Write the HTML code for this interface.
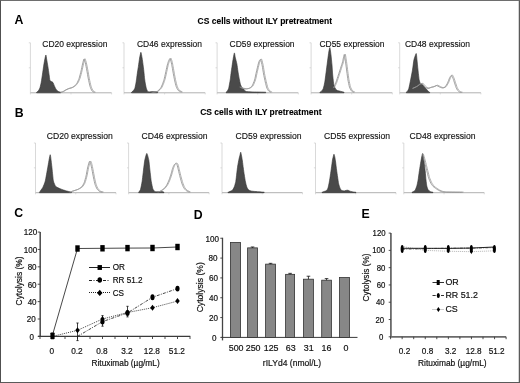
<!DOCTYPE html>
<html><head><meta charset="utf-8"><title>Figure</title>
<style>
html,body{margin:0;padding:0;background:#fff;}
#fig{position:relative;width:520px;height:383px;overflow:hidden;background:#fff;}
#frame{position:absolute;left:0;top:0;width:518px;height:381px;border:1px solid #5a5a5a;border-top-color:#6e6e6e;border-left-color:#505050;}
svg{position:absolute;left:0;top:0;}
svg text{font-family:'Liberation Sans', Arial, Helvetica, sans-serif;}
</style></head>
<body><div id="fig"><div id="frame"></div>
<svg width="520" height="383" viewBox="0 0 520 383">
<text transform="translate(14.5,24.0) scale(1,1.07)" font-size="12.3" font-weight="700" text-anchor="start" fill="#000">A</text>
<text transform="translate(14.7,117.0) scale(1,1.07)" font-size="12.3" font-weight="700" text-anchor="start" fill="#000">B</text>
<text transform="translate(14.3,216.9) scale(1,1.07)" font-size="12.3" font-weight="700" text-anchor="start" fill="#000">C</text>
<text transform="translate(193.7,218.9) scale(1,1.07)" font-size="12.3" font-weight="700" text-anchor="start" fill="#000">D</text>
<text transform="translate(361.5,218.0) scale(1,1.07)" font-size="12.3" font-weight="700" text-anchor="start" fill="#000">E</text>
<text transform="translate(264.8,24.0) scale(1,1.07)" font-size="8.5" font-weight="700" text-anchor="middle" fill="#000" stroke="#000" stroke-width="0.1">CS cells without ILY pretreatment</text>
<text transform="translate(260.8,115.2) scale(1,1.07)" font-size="8.5" font-weight="700" text-anchor="middle" fill="#000" stroke="#000" stroke-width="0.1">CS cells with ILY pretreatment</text>
<line x1="30.4" y1="42.8" x2="30.4" y2="92.8" stroke="#cfcfcf" stroke-width="0.8"/>
<line x1="30.4" y1="92.8" x2="111.6" y2="92.8" stroke="#a8a8a8" stroke-width="0.9"/>
<line x1="28.799999999999997" y1="67.8" x2="30.4" y2="67.8" stroke="#ccc" stroke-width="0.7"/>
<line x1="28.799999999999997" y1="42.8" x2="30.4" y2="42.8" stroke="#ccc" stroke-width="0.7"/>
<line x1="30.4" y1="92.8" x2="30.4" y2="94.39999999999999" stroke="#ccc" stroke-width="0.7"/>
<line x1="71.0" y1="92.8" x2="71.0" y2="94.39999999999999" stroke="#ccc" stroke-width="0.7"/>
<line x1="111.6" y1="92.8" x2="111.6" y2="94.39999999999999" stroke="#ccc" stroke-width="0.7"/>
<path d="M36.60,92.80 C36.60,92.75 36.43,92.50 36.60,92.30 C36.77,92.10 38.19,91.02 38.50,90.60 C38.81,90.18 39.75,88.37 40.00,87.60 C40.25,86.83 41.07,83.22 41.30,82.00 C41.52,80.78 42.27,75.53 42.50,74.00 C42.73,72.47 43.58,66.37 43.80,65.00 C44.02,63.63 44.71,59.70 44.90,58.80 C45.09,57.90 45.74,54.95 45.90,55.00 C46.06,55.05 46.52,58.37 46.70,59.40 C46.88,60.43 47.68,65.12 47.90,66.50 C48.12,67.88 48.92,73.46 49.10,74.70 C49.28,75.94 49.69,79.68 49.90,80.30 C50.11,80.92 51.13,81.41 51.40,81.60 C51.67,81.79 52.63,82.01 52.90,82.40 C53.17,82.79 54.11,85.27 54.40,85.90 C54.69,86.53 55.73,88.90 56.10,89.40 C56.47,89.90 58.08,91.24 58.50,91.50 C58.92,91.76 60.59,92.18 60.80,92.30 C61.01,92.42 60.80,92.75 60.80,92.80 Z" fill="#4a4a4a" stroke="#333" stroke-width="0.6"/>
<path d="M60.50,92.50 C60.73,92.44 62.51,92.02 63.00,91.80 C63.49,91.58 65.46,90.29 66.00,90.00 C66.54,89.71 68.46,88.80 69.00,88.60 C69.54,88.40 71.46,88.03 72.00,87.80 C72.54,87.57 74.50,86.43 75.00,86.00 C75.50,85.57 77.09,83.67 77.50,83.00 C77.91,82.33 79.14,79.58 79.50,78.50 C79.86,77.42 81.19,72.31 81.50,71.00 C81.81,69.69 82.74,65.08 83.00,64.00 C83.26,62.92 84.15,59.09 84.40,59.00 C84.65,58.91 85.55,62.01 85.80,63.00 C86.05,63.99 86.93,68.56 87.20,70.00 C87.47,71.44 88.50,77.52 88.80,79.00 C89.10,80.48 90.17,85.42 90.50,86.50 C90.83,87.58 92.09,90.46 92.50,91.00 C92.91,91.54 94.78,92.36 95.00,92.50" fill="none" stroke="#8a8a8a" stroke-width="0.8" transform="translate(-0.45,0)"/>
<path d="M60.50,92.50 C60.73,92.44 62.51,92.02 63.00,91.80 C63.49,91.58 65.46,90.29 66.00,90.00 C66.54,89.71 68.46,88.80 69.00,88.60 C69.54,88.40 71.46,88.03 72.00,87.80 C72.54,87.57 74.50,86.43 75.00,86.00 C75.50,85.57 77.09,83.67 77.50,83.00 C77.91,82.33 79.14,79.58 79.50,78.50 C79.86,77.42 81.19,72.31 81.50,71.00 C81.81,69.69 82.74,65.08 83.00,64.00 C83.26,62.92 84.15,59.09 84.40,59.00 C84.65,58.91 85.55,62.01 85.80,63.00 C86.05,63.99 86.93,68.56 87.20,70.00 C87.47,71.44 88.50,77.52 88.80,79.00 C89.10,80.48 90.17,85.42 90.50,86.50 C90.83,87.58 92.09,90.46 92.50,91.00 C92.91,91.54 94.78,92.36 95.00,92.50" fill="none" stroke="#9a9a9a" stroke-width="0.8" transform="translate(0.55,-0.3)"/>
<text transform="translate(42.3,46.8) scale(1,1.09)" font-size="8.5" font-weight="400" text-anchor="start" fill="#111" stroke="#111" stroke-width="0.12">CD20 expression</text>
<line x1="124.0" y1="42.8" x2="124.0" y2="92.8" stroke="#cfcfcf" stroke-width="0.8"/>
<line x1="124.0" y1="92.8" x2="205.2" y2="92.8" stroke="#a8a8a8" stroke-width="0.9"/>
<line x1="122.4" y1="67.8" x2="124.0" y2="67.8" stroke="#ccc" stroke-width="0.7"/>
<line x1="122.4" y1="42.8" x2="124.0" y2="42.8" stroke="#ccc" stroke-width="0.7"/>
<line x1="124.0" y1="92.8" x2="124.0" y2="94.39999999999999" stroke="#ccc" stroke-width="0.7"/>
<line x1="164.6" y1="92.8" x2="164.6" y2="94.39999999999999" stroke="#ccc" stroke-width="0.7"/>
<line x1="205.2" y1="92.8" x2="205.2" y2="94.39999999999999" stroke="#ccc" stroke-width="0.7"/>
<path d="M131.50,92.80 C131.50,92.75 131.35,92.48 131.50,92.30 C131.65,92.12 132.91,91.14 133.20,90.80 C133.49,90.46 134.52,89.11 134.75,88.50 C134.98,87.89 135.63,84.88 135.80,84.00 C135.97,83.12 136.45,79.78 136.60,78.70 C136.75,77.62 137.34,73.11 137.50,72.00 C137.66,70.89 138.21,67.66 138.40,66.40 C138.59,65.14 139.38,59.27 139.60,58.00 C139.82,56.73 140.68,52.30 140.90,52.30 C141.12,52.30 141.88,56.73 142.10,58.00 C142.32,59.27 143.13,65.09 143.30,66.40 C143.47,67.71 143.88,71.39 144.00,72.50 C144.12,73.61 144.47,77.67 144.60,78.70 C144.73,79.73 145.24,83.12 145.40,84.00 C145.56,84.88 146.21,87.85 146.40,88.50 C146.59,89.15 147.27,90.89 147.50,91.20 C147.73,91.51 148.50,91.86 149.00,91.90 C149.50,91.94 152.24,91.61 153.00,91.60 C153.76,91.59 157.09,91.69 157.50,91.80 C157.91,91.91 157.50,92.71 157.50,92.80 Z" fill="#4a4a4a" stroke="#333" stroke-width="0.6"/>
<path d="M152.00,92.30 C152.50,92.24 156.69,91.97 157.50,91.60 C158.31,91.23 160.50,88.88 161.00,88.20 C161.50,87.52 162.69,84.78 163.00,84.00 C163.31,83.22 164.23,80.49 164.50,79.50 C164.77,78.51 165.73,74.22 166.00,73.00 C166.27,71.78 167.25,67.03 167.50,66.00 C167.75,64.97 168.54,62.17 168.80,61.50 C169.06,60.83 170.15,58.45 170.40,58.50 C170.65,58.55 171.40,61.23 171.60,62.00 C171.80,62.77 172.38,65.83 172.60,67.00 C172.82,68.17 173.77,73.74 174.00,75.00 C174.23,76.26 174.97,79.97 175.20,81.00 C175.43,82.03 176.30,85.66 176.60,86.50 C176.90,87.34 178.01,89.78 178.50,90.30 C178.99,90.82 181.69,92.12 182.00,92.30" fill="none" stroke="#8a8a8a" stroke-width="0.8" transform="translate(-0.45,0)"/>
<path d="M152.00,92.30 C152.50,92.24 156.69,91.97 157.50,91.60 C158.31,91.23 160.50,88.88 161.00,88.20 C161.50,87.52 162.69,84.78 163.00,84.00 C163.31,83.22 164.23,80.49 164.50,79.50 C164.77,78.51 165.73,74.22 166.00,73.00 C166.27,71.78 167.25,67.03 167.50,66.00 C167.75,64.97 168.54,62.17 168.80,61.50 C169.06,60.83 170.15,58.45 170.40,58.50 C170.65,58.55 171.40,61.23 171.60,62.00 C171.80,62.77 172.38,65.83 172.60,67.00 C172.82,68.17 173.77,73.74 174.00,75.00 C174.23,76.26 174.97,79.97 175.20,81.00 C175.43,82.03 176.30,85.66 176.60,86.50 C176.90,87.34 178.01,89.78 178.50,90.30 C178.99,90.82 181.69,92.12 182.00,92.30" fill="none" stroke="#9a9a9a" stroke-width="0.8" transform="translate(0.55,-0.3)"/>
<text transform="translate(136.9,46.8) scale(1,1.09)" font-size="8.5" font-weight="400" text-anchor="start" fill="#111" stroke="#111" stroke-width="0.12">CD46 expression</text>
<line x1="217.1" y1="42.8" x2="217.1" y2="92.8" stroke="#cfcfcf" stroke-width="0.8"/>
<line x1="217.1" y1="92.8" x2="298.3" y2="92.8" stroke="#a8a8a8" stroke-width="0.9"/>
<line x1="215.5" y1="67.8" x2="217.1" y2="67.8" stroke="#ccc" stroke-width="0.7"/>
<line x1="215.5" y1="42.8" x2="217.1" y2="42.8" stroke="#ccc" stroke-width="0.7"/>
<line x1="217.1" y1="92.8" x2="217.1" y2="94.39999999999999" stroke="#ccc" stroke-width="0.7"/>
<line x1="257.7" y1="92.8" x2="257.7" y2="94.39999999999999" stroke="#ccc" stroke-width="0.7"/>
<line x1="298.3" y1="92.8" x2="298.3" y2="94.39999999999999" stroke="#ccc" stroke-width="0.7"/>
<path d="M226.10,92.80 C226.10,92.75 225.98,92.46 226.10,92.30 C226.22,92.14 227.18,91.34 227.40,91.00 C227.62,90.66 228.41,89.13 228.60,88.50 C228.79,87.87 229.34,84.88 229.50,84.00 C229.66,83.12 230.25,79.78 230.40,78.70 C230.55,77.62 231.06,73.11 231.20,72.00 C231.34,70.89 231.81,67.66 232.00,66.40 C232.19,65.14 233.08,59.22 233.30,58.00 C233.52,56.78 234.22,52.95 234.40,52.90 C234.58,52.85 235.08,56.50 235.30,57.50 C235.53,58.50 236.67,62.78 236.90,64.00 C237.13,65.22 237.69,69.69 237.90,71.00 C238.11,72.31 238.97,77.28 239.20,78.50 C239.43,79.72 240.22,83.64 240.50,84.50 C240.78,85.36 242.02,87.59 242.30,88.00 C242.58,88.41 243.36,88.75 243.60,89.00 C243.84,89.25 244.75,90.57 245.00,90.80 C245.25,91.03 245.77,91.50 246.40,91.60 C247.03,91.70 250.29,91.85 252.00,91.90 C253.71,91.95 264.19,92.12 265.40,92.20 C266.61,92.28 265.40,92.75 265.40,92.80 Z" fill="#4a4a4a" stroke="#333" stroke-width="0.6"/>
<path d="M240.00,87.00 C240.27,87.14 242.46,88.32 243.00,88.50 C243.54,88.68 245.41,89.01 246.00,89.00 C246.59,88.99 248.91,88.67 249.50,88.40 C250.09,88.13 252.00,86.76 252.50,86.00 C253.00,85.24 254.61,81.26 255.00,80.00 C255.39,78.74 256.47,73.44 256.80,72.00 C257.13,70.56 258.42,65.03 258.70,64.00 C258.98,62.97 259.68,60.91 259.90,60.50 C260.12,60.09 260.85,59.01 261.10,59.50 C261.35,59.99 262.44,64.69 262.70,66.00 C262.96,67.31 263.73,72.56 264.00,74.00 C264.27,75.44 265.40,80.74 265.70,82.00 C266.00,83.26 266.99,87.19 267.30,88.00 C267.61,88.81 268.71,90.60 269.10,91.00 C269.49,91.40 271.38,92.27 271.60,92.40" fill="none" stroke="#8a8a8a" stroke-width="0.8" transform="translate(-0.45,0)"/>
<path d="M240.00,87.00 C240.27,87.14 242.46,88.32 243.00,88.50 C243.54,88.68 245.41,89.01 246.00,89.00 C246.59,88.99 248.91,88.67 249.50,88.40 C250.09,88.13 252.00,86.76 252.50,86.00 C253.00,85.24 254.61,81.26 255.00,80.00 C255.39,78.74 256.47,73.44 256.80,72.00 C257.13,70.56 258.42,65.03 258.70,64.00 C258.98,62.97 259.68,60.91 259.90,60.50 C260.12,60.09 260.85,59.01 261.10,59.50 C261.35,59.99 262.44,64.69 262.70,66.00 C262.96,67.31 263.73,72.56 264.00,74.00 C264.27,75.44 265.40,80.74 265.70,82.00 C266.00,83.26 266.99,87.19 267.30,88.00 C267.61,88.81 268.71,90.60 269.10,91.00 C269.49,91.40 271.38,92.27 271.60,92.40" fill="none" stroke="#9a9a9a" stroke-width="0.8" transform="translate(0.55,-0.3)"/>
<text transform="translate(229.5,46.8) scale(1,1.09)" font-size="8.5" font-weight="400" text-anchor="start" fill="#111" stroke="#111" stroke-width="0.12">CD59 expression</text>
<line x1="311.1" y1="42.8" x2="311.1" y2="92.8" stroke="#cfcfcf" stroke-width="0.8"/>
<line x1="311.1" y1="92.8" x2="392.3" y2="92.8" stroke="#a8a8a8" stroke-width="0.9"/>
<line x1="309.5" y1="67.8" x2="311.1" y2="67.8" stroke="#ccc" stroke-width="0.7"/>
<line x1="309.5" y1="42.8" x2="311.1" y2="42.8" stroke="#ccc" stroke-width="0.7"/>
<line x1="311.1" y1="92.8" x2="311.1" y2="94.39999999999999" stroke="#ccc" stroke-width="0.7"/>
<line x1="351.70000000000005" y1="92.8" x2="351.70000000000005" y2="94.39999999999999" stroke="#ccc" stroke-width="0.7"/>
<line x1="392.3" y1="92.8" x2="392.3" y2="94.39999999999999" stroke="#ccc" stroke-width="0.7"/>
<path d="M319.90,92.80 C319.90,92.75 319.76,92.44 319.90,92.30 C320.04,92.16 321.21,91.50 321.50,91.20 C321.79,90.90 322.86,89.56 323.10,89.00 C323.34,88.44 324.02,85.81 324.20,85.00 C324.38,84.19 324.90,81.35 325.10,80.00 C325.30,78.65 326.17,71.80 326.40,70.00 C326.63,68.20 327.48,61.62 327.70,60.00 C327.92,58.38 328.60,53.12 328.80,52.00 C329.00,50.88 329.70,47.33 329.90,47.60 C330.10,47.87 330.81,53.43 331.00,55.00 C331.19,56.57 331.85,63.20 332.00,65.00 C332.15,66.80 332.53,73.20 332.70,75.00 C332.87,76.80 333.64,83.74 333.90,85.00 C334.16,86.26 335.28,88.50 335.60,89.00 C335.92,89.50 337.10,90.30 337.50,90.50 C337.90,90.70 339.52,91.05 340.10,91.20 C340.69,91.35 343.65,92.06 344.00,92.20 C344.35,92.34 344.00,92.75 344.00,92.80 Z" fill="#4a4a4a" stroke="#333" stroke-width="0.6"/>
<path d="M333.60,88.10 C333.73,87.87 334.74,86.05 335.00,85.50 C335.26,84.95 336.16,82.94 336.50,82.00 C336.84,81.06 338.36,76.35 338.80,75.00 C339.24,73.65 341.02,68.17 341.40,67.00 C341.78,65.83 342.70,63.12 343.00,62.00 C343.30,60.88 344.43,54.50 344.70,54.50 C344.97,54.50 345.77,60.42 346.00,62.00 C346.23,63.58 347.08,70.38 347.30,72.00 C347.52,73.62 348.17,78.65 348.40,80.00 C348.63,81.35 349.58,86.01 349.90,87.00 C350.21,87.99 351.49,90.51 351.90,91.00 C352.31,91.49 354.27,92.27 354.50,92.40" fill="none" stroke="#8a8a8a" stroke-width="0.8" transform="translate(-0.45,0)"/>
<path d="M333.60,88.10 C333.73,87.87 334.74,86.05 335.00,85.50 C335.26,84.95 336.16,82.94 336.50,82.00 C336.84,81.06 338.36,76.35 338.80,75.00 C339.24,73.65 341.02,68.17 341.40,67.00 C341.78,65.83 342.70,63.12 343.00,62.00 C343.30,60.88 344.43,54.50 344.70,54.50 C344.97,54.50 345.77,60.42 346.00,62.00 C346.23,63.58 347.08,70.38 347.30,72.00 C347.52,73.62 348.17,78.65 348.40,80.00 C348.63,81.35 349.58,86.01 349.90,87.00 C350.21,87.99 351.49,90.51 351.90,91.00 C352.31,91.49 354.27,92.27 354.50,92.40" fill="none" stroke="#9a9a9a" stroke-width="0.8" transform="translate(0.55,-0.3)"/>
<text transform="translate(319.4,46.8) scale(1,1.09)" font-size="8.5" font-weight="400" text-anchor="start" fill="#111" stroke="#111" stroke-width="0.12">CD55 expression</text>
<line x1="399.7" y1="42.8" x2="399.7" y2="92.8" stroke="#cfcfcf" stroke-width="0.8"/>
<line x1="399.7" y1="92.8" x2="480.9" y2="92.8" stroke="#a8a8a8" stroke-width="0.9"/>
<line x1="398.09999999999997" y1="67.8" x2="399.7" y2="67.8" stroke="#ccc" stroke-width="0.7"/>
<line x1="398.09999999999997" y1="42.8" x2="399.7" y2="42.8" stroke="#ccc" stroke-width="0.7"/>
<line x1="399.7" y1="92.8" x2="399.7" y2="94.39999999999999" stroke="#ccc" stroke-width="0.7"/>
<line x1="440.3" y1="92.8" x2="440.3" y2="94.39999999999999" stroke="#ccc" stroke-width="0.7"/>
<line x1="480.9" y1="92.8" x2="480.9" y2="94.39999999999999" stroke="#ccc" stroke-width="0.7"/>
<path d="M406.30,92.80 C406.30,92.75 406.18,92.46 406.30,92.30 C406.42,92.14 407.38,91.33 407.60,91.00 C407.83,90.67 408.53,89.59 408.80,88.60 C409.07,87.61 410.27,81.67 410.60,80.00 C410.93,78.33 412.20,71.80 412.50,70.00 C412.80,68.20 413.57,61.48 413.90,60.00 C414.23,58.52 415.92,53.50 416.20,53.50 C416.48,53.50 416.84,58.52 417.00,60.00 C417.16,61.48 417.80,68.20 418.00,70.00 C418.20,71.80 418.97,78.77 419.20,80.00 C419.43,81.23 420.22,83.30 420.50,83.70 C420.78,84.11 421.86,84.11 422.30,84.50 C422.74,84.89 424.84,87.37 425.40,88.00 C425.96,88.63 428.11,91.11 428.50,91.50 C428.89,91.89 429.59,92.18 429.70,92.30 C429.81,92.42 429.70,92.75 429.70,92.80 Z" fill="#4a4a4a" stroke="#333" stroke-width="0.6"/>
<path d="M412.50,88.60 C412.90,88.41 416.32,86.90 417.00,86.50 C417.68,86.10 419.50,84.46 420.00,84.20 C420.50,83.94 422.14,83.48 422.50,83.60 C422.86,83.72 423.69,85.16 424.00,85.50 C424.31,85.84 425.60,87.13 426.00,87.40 C426.40,87.67 428.05,88.49 428.50,88.50 C428.95,88.51 430.50,87.65 431.00,87.50 C431.50,87.35 433.46,86.98 434.00,86.80 C434.54,86.62 436.46,85.48 437.00,85.50 C437.54,85.52 439.46,86.78 440.00,87.00 C440.54,87.22 442.50,88.00 443.00,88.00 C443.50,88.00 445.05,87.45 445.50,87.00 C445.95,86.55 447.60,83.81 448.00,83.00 C448.40,82.19 449.66,78.69 450.00,78.00 C450.34,77.31 451.49,75.25 451.80,75.30 C452.12,75.34 453.21,77.81 453.50,78.50 C453.79,79.19 454.73,82.19 455.00,83.00 C455.27,83.81 456.23,86.84 456.50,87.50 C456.77,88.16 457.69,89.89 458.00,90.30 C458.31,90.70 459.64,91.80 460.00,92.00 C460.36,92.20 461.82,92.45 462.00,92.50" fill="none" stroke="#8a8a8a" stroke-width="0.8" transform="translate(-0.45,0)"/>
<path d="M412.50,88.60 C412.90,88.41 416.32,86.90 417.00,86.50 C417.68,86.10 419.50,84.46 420.00,84.20 C420.50,83.94 422.14,83.48 422.50,83.60 C422.86,83.72 423.69,85.16 424.00,85.50 C424.31,85.84 425.60,87.13 426.00,87.40 C426.40,87.67 428.05,88.49 428.50,88.50 C428.95,88.51 430.50,87.65 431.00,87.50 C431.50,87.35 433.46,86.98 434.00,86.80 C434.54,86.62 436.46,85.48 437.00,85.50 C437.54,85.52 439.46,86.78 440.00,87.00 C440.54,87.22 442.50,88.00 443.00,88.00 C443.50,88.00 445.05,87.45 445.50,87.00 C445.95,86.55 447.60,83.81 448.00,83.00 C448.40,82.19 449.66,78.69 450.00,78.00 C450.34,77.31 451.49,75.25 451.80,75.30 C452.12,75.34 453.21,77.81 453.50,78.50 C453.79,79.19 454.73,82.19 455.00,83.00 C455.27,83.81 456.23,86.84 456.50,87.50 C456.77,88.16 457.69,89.89 458.00,90.30 C458.31,90.70 459.64,91.80 460.00,92.00 C460.36,92.20 461.82,92.45 462.00,92.50" fill="none" stroke="#9a9a9a" stroke-width="0.8" transform="translate(0.55,-0.3)"/>
<text transform="translate(404.9,46.8) scale(1,1.09)" font-size="8.5" font-weight="400" text-anchor="start" fill="#111" stroke="#111" stroke-width="0.12">CD48 expression</text>
<line x1="35.5" y1="143.0" x2="35.5" y2="192.7" stroke="#cfcfcf" stroke-width="0.8"/>
<line x1="35.5" y1="192.7" x2="116.0" y2="192.7" stroke="#a8a8a8" stroke-width="0.9"/>
<line x1="33.9" y1="167.85" x2="35.5" y2="167.85" stroke="#ccc" stroke-width="0.7"/>
<line x1="33.9" y1="143.0" x2="35.5" y2="143.0" stroke="#ccc" stroke-width="0.7"/>
<line x1="35.5" y1="192.7" x2="35.5" y2="194.29999999999998" stroke="#ccc" stroke-width="0.7"/>
<line x1="75.75" y1="192.7" x2="75.75" y2="194.29999999999998" stroke="#ccc" stroke-width="0.7"/>
<line x1="116.0" y1="192.7" x2="116.0" y2="194.29999999999998" stroke="#ccc" stroke-width="0.7"/>
<path d="M39.50,192.70 C39.50,192.66 39.20,192.68 39.50,192.20 C39.80,191.72 42.28,188.42 42.80,187.40 C43.32,186.38 44.86,182.66 45.30,180.90 C45.74,179.14 47.26,170.16 47.70,167.80 C48.14,165.44 49.83,154.84 50.20,154.70 C50.57,154.56 51.51,163.84 51.80,166.20 C52.09,168.56 53.03,179.06 53.40,180.90 C53.77,182.74 55.23,185.87 55.90,186.60 C56.57,187.33 59.92,188.63 60.80,189.00 C61.68,189.37 64.75,190.41 65.70,190.70 C66.65,190.99 70.89,192.02 71.40,192.20 C71.91,192.38 71.40,192.66 71.40,192.70 Z" fill="#4a4a4a" stroke="#333" stroke-width="0.6"/>
<path d="M70.00,192.30 C70.18,192.23 71.28,191.75 72.00,191.50 C72.72,191.25 77.10,189.91 78.00,189.50 C78.90,189.09 81.42,187.59 82.00,187.00 C82.58,186.41 84.09,183.99 84.50,183.00 C84.91,182.01 86.19,177.35 86.50,176.00 C86.81,174.65 87.75,169.17 88.00,168.00 C88.25,166.83 89.11,163.60 89.30,163.00 C89.49,162.40 89.93,161.21 90.10,161.30 C90.27,161.39 90.98,163.22 91.20,164.00 C91.42,164.78 92.25,168.74 92.50,170.00 C92.75,171.26 93.73,176.69 94.00,178.00 C94.27,179.31 95.19,183.51 95.50,184.50 C95.81,185.49 97.09,188.37 97.50,189.00 C97.91,189.63 99.50,191.20 100.00,191.50 C100.50,191.80 102.73,192.23 103.00,192.30" fill="none" stroke="#8a8a8a" stroke-width="0.8" transform="translate(-0.45,0)"/>
<path d="M70.00,192.30 C70.18,192.23 71.28,191.75 72.00,191.50 C72.72,191.25 77.10,189.91 78.00,189.50 C78.90,189.09 81.42,187.59 82.00,187.00 C82.58,186.41 84.09,183.99 84.50,183.00 C84.91,182.01 86.19,177.35 86.50,176.00 C86.81,174.65 87.75,169.17 88.00,168.00 C88.25,166.83 89.11,163.60 89.30,163.00 C89.49,162.40 89.93,161.21 90.10,161.30 C90.27,161.39 90.98,163.22 91.20,164.00 C91.42,164.78 92.25,168.74 92.50,170.00 C92.75,171.26 93.73,176.69 94.00,178.00 C94.27,179.31 95.19,183.51 95.50,184.50 C95.81,185.49 97.09,188.37 97.50,189.00 C97.91,189.63 99.50,191.20 100.00,191.50 C100.50,191.80 102.73,192.23 103.00,192.30" fill="none" stroke="#9a9a9a" stroke-width="0.8" transform="translate(0.55,-0.3)"/>
<text transform="translate(46.7,138.6) scale(1,1.09)" font-size="8.62" font-weight="400" text-anchor="start" fill="#111" stroke="#111" stroke-width="0.12">CD20 expression</text>
<line x1="128.6" y1="143.0" x2="128.6" y2="192.7" stroke="#cfcfcf" stroke-width="0.8"/>
<line x1="128.6" y1="192.7" x2="209.1" y2="192.7" stroke="#a8a8a8" stroke-width="0.9"/>
<line x1="127.0" y1="167.85" x2="128.6" y2="167.85" stroke="#ccc" stroke-width="0.7"/>
<line x1="127.0" y1="143.0" x2="128.6" y2="143.0" stroke="#ccc" stroke-width="0.7"/>
<line x1="128.6" y1="192.7" x2="128.6" y2="194.29999999999998" stroke="#ccc" stroke-width="0.7"/>
<line x1="168.85" y1="192.7" x2="168.85" y2="194.29999999999998" stroke="#ccc" stroke-width="0.7"/>
<line x1="209.1" y1="192.7" x2="209.1" y2="194.29999999999998" stroke="#ccc" stroke-width="0.7"/>
<path d="M138.70,192.70 C138.70,192.66 138.54,192.49 138.70,192.20 C138.86,191.91 140.19,190.45 140.50,189.50 C140.81,188.55 141.83,183.35 142.10,181.60 C142.37,179.84 143.26,171.94 143.50,170.00 C143.74,168.06 144.50,161.49 144.80,160.00 C145.10,158.51 146.44,153.40 146.80,153.40 C147.16,153.40 148.52,158.51 148.80,160.00 C149.08,161.49 149.68,168.06 149.90,170.00 C150.12,171.94 151.03,179.89 151.30,181.60 C151.57,183.31 152.61,188.14 152.90,189.00 C153.19,189.86 154.20,190.95 154.50,191.20 C154.80,191.45 155.56,191.77 156.20,191.80 C156.84,191.83 160.90,191.46 161.60,191.50 C162.30,191.54 163.78,192.09 164.00,192.20 C164.22,192.31 164.00,192.66 164.00,192.70 Z" fill="#4a4a4a" stroke="#333" stroke-width="0.6"/>
<path d="M158.00,192.00 C158.18,191.96 159.46,191.77 160.00,191.50 C160.54,191.23 163.37,189.56 164.00,189.00 C164.63,188.44 166.50,186.11 167.00,185.30 C167.50,184.49 169.09,181.02 169.50,180.00 C169.91,178.98 171.19,175.03 171.50,174.00 C171.81,172.97 172.73,169.31 173.00,168.50 C173.27,167.69 174.20,165.47 174.50,165.00 C174.80,164.53 176.03,163.32 176.30,163.30 C176.57,163.28 177.28,164.20 177.50,164.80 C177.72,165.40 178.53,168.90 178.80,170.00 C179.07,171.10 180.19,175.83 180.50,177.00 C180.81,178.17 181.88,182.06 182.20,183.00 C182.51,183.94 183.61,186.82 184.00,187.50 C184.39,188.18 185.96,190.07 186.50,190.50 C187.04,190.93 189.69,192.14 190.00,192.30" fill="none" stroke="#8a8a8a" stroke-width="0.8" transform="translate(-0.45,0)"/>
<path d="M158.00,192.00 C158.18,191.96 159.46,191.77 160.00,191.50 C160.54,191.23 163.37,189.56 164.00,189.00 C164.63,188.44 166.50,186.11 167.00,185.30 C167.50,184.49 169.09,181.02 169.50,180.00 C169.91,178.98 171.19,175.03 171.50,174.00 C171.81,172.97 172.73,169.31 173.00,168.50 C173.27,167.69 174.20,165.47 174.50,165.00 C174.80,164.53 176.03,163.32 176.30,163.30 C176.57,163.28 177.28,164.20 177.50,164.80 C177.72,165.40 178.53,168.90 178.80,170.00 C179.07,171.10 180.19,175.83 180.50,177.00 C180.81,178.17 181.88,182.06 182.20,183.00 C182.51,183.94 183.61,186.82 184.00,187.50 C184.39,188.18 185.96,190.07 186.50,190.50 C187.04,190.93 189.69,192.14 190.00,192.30" fill="none" stroke="#9a9a9a" stroke-width="0.8" transform="translate(0.55,-0.3)"/>
<text transform="translate(141.5,138.6) scale(1,1.09)" font-size="8.62" font-weight="400" text-anchor="start" fill="#111" stroke="#111" stroke-width="0.12">CD46 expression</text>
<line x1="222.0" y1="143.0" x2="222.0" y2="192.7" stroke="#cfcfcf" stroke-width="0.8"/>
<line x1="222.0" y1="192.7" x2="302.5" y2="192.7" stroke="#a8a8a8" stroke-width="0.9"/>
<line x1="220.4" y1="167.85" x2="222.0" y2="167.85" stroke="#ccc" stroke-width="0.7"/>
<line x1="220.4" y1="143.0" x2="222.0" y2="143.0" stroke="#ccc" stroke-width="0.7"/>
<line x1="222.0" y1="192.7" x2="222.0" y2="194.29999999999998" stroke="#ccc" stroke-width="0.7"/>
<line x1="262.25" y1="192.7" x2="262.25" y2="194.29999999999998" stroke="#ccc" stroke-width="0.7"/>
<line x1="302.5" y1="192.7" x2="302.5" y2="194.29999999999998" stroke="#ccc" stroke-width="0.7"/>
<path d="M228.00,192.70 C228.00,192.66 227.61,192.52 228.00,192.30 C228.39,192.08 231.73,190.80 232.30,190.30 C232.87,189.81 233.99,187.60 234.30,186.80 C234.62,186.00 235.58,182.55 235.80,181.40 C236.02,180.25 236.53,175.39 236.70,174.00 C236.87,172.61 237.49,167.35 237.70,166.00 C237.91,164.65 238.79,159.99 239.00,159.00 C239.21,158.01 239.85,155.61 240.00,155.00 C240.15,154.39 240.56,152.16 240.70,152.20 C240.83,152.24 241.35,154.71 241.50,155.50 C241.65,156.29 242.24,159.88 242.40,161.00 C242.56,162.12 243.13,166.74 243.30,168.00 C243.47,169.26 244.10,173.74 244.30,175.00 C244.50,176.26 245.28,180.92 245.50,182.00 C245.72,183.08 246.53,186.30 246.80,187.00 C247.07,187.70 248.12,189.44 248.50,189.80 C248.88,190.16 250.32,190.84 251.00,191.00 C251.68,191.16 254.83,191.49 256.00,191.60 C257.17,191.71 263.28,192.10 264.00,192.20 C264.72,192.30 264.00,192.66 264.00,192.70 Z" fill="#4a4a4a" stroke="#333" stroke-width="0.6"/>
<text transform="translate(235.5,138.6) scale(1,1.09)" font-size="8.62" font-weight="400" text-anchor="start" fill="#111" stroke="#111" stroke-width="0.12">CD59 expression</text>
<line x1="315.5" y1="143.0" x2="315.5" y2="192.7" stroke="#cfcfcf" stroke-width="0.8"/>
<line x1="315.5" y1="192.7" x2="396.0" y2="192.7" stroke="#a8a8a8" stroke-width="0.9"/>
<line x1="313.9" y1="167.85" x2="315.5" y2="167.85" stroke="#ccc" stroke-width="0.7"/>
<line x1="313.9" y1="143.0" x2="315.5" y2="143.0" stroke="#ccc" stroke-width="0.7"/>
<line x1="315.5" y1="192.7" x2="315.5" y2="194.29999999999998" stroke="#ccc" stroke-width="0.7"/>
<line x1="355.75" y1="192.7" x2="355.75" y2="194.29999999999998" stroke="#ccc" stroke-width="0.7"/>
<line x1="396.0" y1="192.7" x2="396.0" y2="194.29999999999998" stroke="#ccc" stroke-width="0.7"/>
<path d="M322.00,192.70 C322.00,192.66 321.60,192.50 322.00,192.30 C322.40,192.10 325.96,190.89 326.50,190.50 C327.04,190.11 327.75,188.76 328.00,188.00 C328.25,187.24 329.08,183.17 329.30,182.00 C329.52,180.83 330.21,176.26 330.40,175.00 C330.59,173.74 331.21,169.35 331.40,168.00 C331.59,166.65 332.32,161.08 332.50,160.00 C332.68,158.92 333.26,156.52 333.40,156.00 C333.53,155.48 333.87,154.11 334.00,154.20 C334.13,154.29 334.66,156.30 334.80,157.00 C334.94,157.70 335.44,160.83 335.60,162.00 C335.76,163.17 336.42,168.65 336.60,170.00 C336.78,171.35 337.41,175.74 337.60,177.00 C337.79,178.26 338.47,182.97 338.70,184.00 C338.93,185.03 339.95,187.93 340.20,188.50 C340.45,189.07 341.16,190.08 341.50,190.30 C341.84,190.53 343.60,190.99 344.00,191.00 C344.40,191.01 345.64,190.47 346.00,190.40 C346.36,190.33 347.64,190.13 348.00,190.20 C348.36,190.27 349.55,191.05 350.00,191.20 C350.45,191.35 352.46,191.80 353.00,191.90 C353.54,192.00 355.73,192.23 356.00,192.30 C356.27,192.37 356.00,192.66 356.00,192.70 Z" fill="#4a4a4a" stroke="#333" stroke-width="0.6"/>
<text transform="translate(324.0,138.6) scale(1,1.09)" font-size="8.62" font-weight="400" text-anchor="start" fill="#111" stroke="#111" stroke-width="0.12">CD55 expression</text>
<line x1="403.8" y1="143.0" x2="403.8" y2="192.7" stroke="#cfcfcf" stroke-width="0.8"/>
<line x1="403.8" y1="192.7" x2="484.3" y2="192.7" stroke="#a8a8a8" stroke-width="0.9"/>
<line x1="402.2" y1="167.85" x2="403.8" y2="167.85" stroke="#ccc" stroke-width="0.7"/>
<line x1="402.2" y1="143.0" x2="403.8" y2="143.0" stroke="#ccc" stroke-width="0.7"/>
<line x1="403.8" y1="192.7" x2="403.8" y2="194.29999999999998" stroke="#ccc" stroke-width="0.7"/>
<line x1="444.05" y1="192.7" x2="444.05" y2="194.29999999999998" stroke="#ccc" stroke-width="0.7"/>
<line x1="484.3" y1="192.7" x2="484.3" y2="194.29999999999998" stroke="#ccc" stroke-width="0.7"/>
<path d="M412.00,192.70 C412.00,192.66 411.73,192.51 412.00,192.30 C412.27,192.09 414.57,190.96 415.00,190.40 C415.43,189.84 416.52,187.04 416.80,186.10 C417.08,185.16 417.88,181.27 418.10,180.00 C418.32,178.73 419.00,173.35 419.20,172.00 C419.40,170.65 420.09,166.26 420.30,165.00 C420.51,163.74 421.29,159.03 421.50,158.00 C421.71,156.97 422.41,153.50 422.60,153.50 C422.79,153.50 423.43,156.97 423.60,158.00 C423.77,159.03 424.35,163.74 424.50,165.00 C424.65,166.26 425.17,170.65 425.30,172.00 C425.44,173.35 425.87,178.74 426.00,180.00 C426.13,181.26 426.62,185.15 426.80,186.00 C426.98,186.85 427.71,189.00 428.00,189.50 C428.29,190.00 429.55,191.25 430.00,191.50 C430.45,191.75 432.73,192.19 433.00,192.30 C433.27,192.41 433.00,192.66 433.00,192.70 Z" fill="#4a4a4a" stroke="#333" stroke-width="0.6"/>
<path d="M422.80,154.20 C422.95,154.72 424.21,158.94 424.50,160.00 C424.79,161.06 425.73,164.92 426.00,166.00 C426.27,167.08 427.23,170.94 427.50,172.00 C427.77,173.06 428.67,176.81 429.00,177.80 C429.33,178.79 430.80,182.23 431.20,183.00 C431.60,183.77 433.07,185.92 433.50,186.40 C433.93,186.88 435.50,187.95 436.00,188.30 C436.50,188.65 438.46,190.00 439.00,190.30 C439.54,190.60 441.37,191.43 442.00,191.60 C442.63,191.77 444.11,192.13 446.00,192.20 C447.89,192.27 461.47,192.38 463.00,192.40" fill="none" stroke="#8a8a8a" stroke-width="0.8" transform="translate(-0.45,0)"/>
<path d="M422.80,154.20 C422.95,154.72 424.21,158.94 424.50,160.00 C424.79,161.06 425.73,164.92 426.00,166.00 C426.27,167.08 427.23,170.94 427.50,172.00 C427.77,173.06 428.67,176.81 429.00,177.80 C429.33,178.79 430.80,182.23 431.20,183.00 C431.60,183.77 433.07,185.92 433.50,186.40 C433.93,186.88 435.50,187.95 436.00,188.30 C436.50,188.65 438.46,190.00 439.00,190.30 C439.54,190.60 441.37,191.43 442.00,191.60 C442.63,191.77 444.11,192.13 446.00,192.20 C447.89,192.27 461.47,192.38 463.00,192.40" fill="none" stroke="#9a9a9a" stroke-width="0.8" transform="translate(0.55,-0.3)"/>
<text transform="translate(409.5,138.6) scale(1,1.09)" font-size="8.62" font-weight="400" text-anchor="start" fill="#111" stroke="#111" stroke-width="0.12">CD48 expression</text>
<line x1="40.2" y1="232.1" x2="40.2" y2="336.4" stroke="#4a4a4a" stroke-width="1.5"/>
<line x1="38.0" y1="336.4" x2="190.3" y2="336.4" stroke="#3a3a3a" stroke-width="1.1"/>
<line x1="37.7" y1="336.40" x2="40.2" y2="336.40" stroke="#3a3a3a" stroke-width="0.9"/>
<text transform="translate(34.1,339.75) scale(1,1.18)" font-size="8.05" font-weight="400" text-anchor="end" fill="#111" stroke="#111" stroke-width="0.18">0</text>
<line x1="37.7" y1="319.01" x2="40.2" y2="319.01" stroke="#3a3a3a" stroke-width="0.9"/>
<text transform="translate(35.8,322.36) scale(1,1.18)" font-size="8.05" font-weight="400" text-anchor="end" fill="#111" stroke="#111" stroke-width="0.18">20</text>
<line x1="37.7" y1="301.62" x2="40.2" y2="301.62" stroke="#3a3a3a" stroke-width="0.9"/>
<text transform="translate(36.6,304.97) scale(1,1.18)" font-size="8.05" font-weight="400" text-anchor="end" fill="#111" stroke="#111" stroke-width="0.18">40</text>
<line x1="37.7" y1="284.23" x2="40.2" y2="284.23" stroke="#3a3a3a" stroke-width="0.9"/>
<text transform="translate(36.6,287.58) scale(1,1.18)" font-size="8.05" font-weight="400" text-anchor="end" fill="#111" stroke="#111" stroke-width="0.18">60</text>
<line x1="37.7" y1="266.84" x2="40.2" y2="266.84" stroke="#3a3a3a" stroke-width="0.9"/>
<text transform="translate(36.6,270.19) scale(1,1.18)" font-size="8.05" font-weight="400" text-anchor="end" fill="#111" stroke="#111" stroke-width="0.18">80</text>
<line x1="37.7" y1="249.45" x2="40.2" y2="249.45" stroke="#3a3a3a" stroke-width="0.9"/>
<text transform="translate(37.3,252.8) scale(1,1.18)" font-size="8.05" font-weight="400" text-anchor="end" fill="#111" stroke="#111" stroke-width="0.18">100</text>
<line x1="37.7" y1="232.06" x2="40.2" y2="232.06" stroke="#3a3a3a" stroke-width="0.9"/>
<text transform="translate(37.2,235.41) scale(1,1.18)" font-size="8.05" font-weight="400" text-anchor="end" fill="#111" stroke="#111" stroke-width="0.18">120</text>
<line x1="40.0" y1="336.4" x2="40.0" y2="339.0" stroke="#3a3a3a" stroke-width="0.9"/>
<line x1="52.5" y1="336.4" x2="52.5" y2="339.0" stroke="#3a3a3a" stroke-width="0.9"/>
<line x1="65.0" y1="336.4" x2="65.0" y2="339.0" stroke="#3a3a3a" stroke-width="0.9"/>
<line x1="77.5" y1="336.4" x2="77.5" y2="339.0" stroke="#3a3a3a" stroke-width="0.9"/>
<line x1="90.0" y1="336.4" x2="90.0" y2="339.0" stroke="#3a3a3a" stroke-width="0.9"/>
<line x1="102.5" y1="336.4" x2="102.5" y2="339.0" stroke="#3a3a3a" stroke-width="0.9"/>
<line x1="115.0" y1="336.4" x2="115.0" y2="339.0" stroke="#3a3a3a" stroke-width="0.9"/>
<line x1="127.5" y1="336.4" x2="127.5" y2="339.0" stroke="#3a3a3a" stroke-width="0.9"/>
<line x1="140.0" y1="336.4" x2="140.0" y2="339.0" stroke="#3a3a3a" stroke-width="0.9"/>
<line x1="152.5" y1="336.4" x2="152.5" y2="339.0" stroke="#3a3a3a" stroke-width="0.9"/>
<line x1="165.0" y1="336.4" x2="165.0" y2="339.0" stroke="#3a3a3a" stroke-width="0.9"/>
<line x1="177.5" y1="336.4" x2="177.5" y2="339.0" stroke="#3a3a3a" stroke-width="0.9"/>
<line x1="190.0" y1="336.4" x2="190.0" y2="339.0" stroke="#3a3a3a" stroke-width="0.9"/>
<text transform="translate(51.9,354.1) scale(1,1.15)" font-size="8.3" font-weight="400" text-anchor="middle" fill="#111" stroke="#111" stroke-width="0.18">0</text>
<text transform="translate(76.9,354.1) scale(1,1.15)" font-size="8.3" font-weight="400" text-anchor="middle" fill="#111" stroke="#111" stroke-width="0.18">0.2</text>
<text transform="translate(101.9,354.1) scale(1,1.15)" font-size="8.3" font-weight="400" text-anchor="middle" fill="#111" stroke="#111" stroke-width="0.18">0.8</text>
<text transform="translate(126.9,354.1) scale(1,1.15)" font-size="8.3" font-weight="400" text-anchor="middle" fill="#111" stroke="#111" stroke-width="0.18">3.2</text>
<text transform="translate(151.9,354.1) scale(1,1.15)" font-size="8.3" font-weight="400" text-anchor="middle" fill="#111" stroke="#111" stroke-width="0.18">12.8</text>
<text transform="translate(176.9,354.1) scale(1,1.15)" font-size="8.3" font-weight="400" text-anchor="middle" fill="#111" stroke="#111" stroke-width="0.18">51.2</text>
<text transform="translate(125.6,366.1) scale(1,1.05)" font-size="8.35" font-weight="400" text-anchor="middle" fill="#111" stroke="#111" stroke-width="0.18">Rituximab (µg/mL)</text>
<text x="0" y="0" font-size="8.4" font-weight="400" text-anchor="middle" fill="#111" stroke="#111" stroke-width="0.18" transform="translate(21.6,281.0) rotate(-90)">Cytolysis (%)</text>
<polyline points="52.50,335.00 77.50,248.50 102.50,248.30 127.50,248.10 152.50,248.00 177.50,247.00" fill="none" stroke="#333" stroke-width="0.9" />
<polyline points="77.50,336.40 102.50,321.62 127.50,312.92 152.50,297.27 177.50,288.58" fill="none" stroke="#333" stroke-width="0.9" stroke-dasharray="3,1.2,1,1.2"/>
<polyline points="52.50,336.40 77.50,330.31 102.50,319.01 127.50,312.49 152.50,307.71 177.50,301.10" fill="none" stroke="#333" stroke-width="0.9" stroke-dasharray="1,1"/>
<line x1="77.5" y1="323.0" x2="77.5" y2="340.6" stroke="#111" stroke-width="0.8"/>
<line x1="76.4" y1="323.0" x2="78.6" y2="323.0" stroke="#111" stroke-width="0.8"/>
<line x1="76.4" y1="340.6" x2="78.6" y2="340.6" stroke="#111" stroke-width="0.8"/>
<line x1="102.5" y1="315.6" x2="102.5" y2="326.2" stroke="#111" stroke-width="0.8"/>
<line x1="101.4" y1="315.6" x2="103.6" y2="315.6" stroke="#111" stroke-width="0.8"/>
<line x1="101.4" y1="326.2" x2="103.6" y2="326.2" stroke="#111" stroke-width="0.8"/>
<line x1="127.5" y1="306.3" x2="127.5" y2="316.9" stroke="#111" stroke-width="0.8"/>
<line x1="126.4" y1="306.3" x2="128.6" y2="306.3" stroke="#111" stroke-width="0.8"/>
<line x1="126.4" y1="316.9" x2="128.6" y2="316.9" stroke="#111" stroke-width="0.8"/>
<rect x="50.4" y="332.4" width="4.2" height="6.9" rx="0.8" fill="#000"/>
<path d="M77.5,327.31 L79.75,330.31 L77.5,333.31 L75.25,330.31 Z" fill="#000"/>
<path d="M102.5,316.01 L104.75,319.01 L102.5,322.01 L100.25,319.01 Z" fill="#000"/>
<path d="M127.5,309.49 L129.75,312.49 L127.5,315.49 L125.25,312.49 Z" fill="#000"/>
<path d="M152.5,304.71 L154.75,307.71 L152.5,310.71 L150.25,307.71 Z" fill="#000"/>
<path d="M177.5,298.10 L179.75,301.10 L177.5,304.10 L175.25,301.10 Z" fill="#000"/>
<ellipse cx="102.5" cy="321.62" rx="2.1" ry="2.95" fill="#000"/>
<ellipse cx="127.5" cy="312.92" rx="2.1" ry="2.95" fill="#000"/>
<ellipse cx="152.5" cy="297.27" rx="2.1" ry="2.95" fill="#000"/>
<ellipse cx="177.5" cy="288.58" rx="2.1" ry="2.95" fill="#000"/>
<rect x="75.30" y="245.30" width="4.4" height="6.4" fill="#000"/>
<rect x="100.30" y="245.10" width="4.4" height="6.4" fill="#000"/>
<rect x="125.30" y="244.90" width="4.4" height="6.4" fill="#000"/>
<rect x="150.30" y="244.80" width="4.4" height="6.4" fill="#000"/>
<rect x="175.30" y="243.80" width="4.4" height="6.4" fill="#000"/>
<polyline points="89.00,267.50 110.00,267.50" fill="none" stroke="#222" stroke-width="1.0" />
<rect x="97.55" y="265.08" width="4.40" height="4.84" fill="#000"/>
<text transform="translate(112.7,270.25) scale(1,1.06)" font-size="8.15" font-weight="400" text-anchor="start" fill="#111" stroke="#111" stroke-width="0.18">OR</text>
<polyline points="89.00,280.50 110.00,280.50" fill="none" stroke="#222" stroke-width="1.0" stroke-dasharray="3,1.5,1,1.5"/>
<ellipse cx="99.75" cy="280.0" rx="2.29" ry="2.73" fill="#000"/>
<text transform="translate(112.7,282.75) scale(1,1.06)" font-size="8.15" font-weight="400" text-anchor="start" fill="#111" stroke="#111" stroke-width="0.18">RR 51.2</text>
<polyline points="89.00,292.50 110.00,292.50" fill="none" stroke="#222" stroke-width="1.0" stroke-dasharray="1,1"/>
<path d="M99.75,289.80 L102.50,292.9 L99.75,296.00 L97.00,292.9 Z" fill="#000"/>
<text transform="translate(112.7,295.65) scale(1,1.06)" font-size="8.15" font-weight="400" text-anchor="start" fill="#111" stroke="#111" stroke-width="0.18">CS</text>
<line x1="222.5" y1="237.75" x2="222.5" y2="340.4" stroke="#444" stroke-width="1.3"/>
<line x1="221.5" y1="337.4" x2="357.5" y2="337.4" stroke="#3a3a3a" stroke-width="1"/>
<line x1="220.3" y1="337.40" x2="222.5" y2="337.40" stroke="#3a3a3a" stroke-width="0.9"/>
<text transform="translate(216.4,340.75) scale(1,1.18)" font-size="8.1" font-weight="400" text-anchor="end" fill="#111" stroke="#111" stroke-width="0.18">0</text>
<line x1="220.3" y1="317.57" x2="222.5" y2="317.57" stroke="#3a3a3a" stroke-width="0.9"/>
<text transform="translate(218.1,320.92) scale(1,1.18)" font-size="8.1" font-weight="400" text-anchor="end" fill="#111" stroke="#111" stroke-width="0.18">20</text>
<line x1="220.3" y1="297.74" x2="222.5" y2="297.74" stroke="#3a3a3a" stroke-width="0.9"/>
<text transform="translate(218.1,301.09) scale(1,1.18)" font-size="8.1" font-weight="400" text-anchor="end" fill="#111" stroke="#111" stroke-width="0.18">40</text>
<line x1="220.3" y1="277.91" x2="222.5" y2="277.91" stroke="#3a3a3a" stroke-width="0.9"/>
<text transform="translate(218.1,281.26) scale(1,1.18)" font-size="8.1" font-weight="400" text-anchor="end" fill="#111" stroke="#111" stroke-width="0.18">60</text>
<line x1="220.3" y1="258.08" x2="222.5" y2="258.08" stroke="#3a3a3a" stroke-width="0.9"/>
<text transform="translate(217.6,261.43) scale(1,1.18)" font-size="8.1" font-weight="400" text-anchor="end" fill="#111" stroke="#111" stroke-width="0.18">80</text>
<line x1="220.3" y1="238.25" x2="222.5" y2="238.25" stroke="#3a3a3a" stroke-width="0.9"/>
<text transform="translate(219.1,241.6) scale(1,1.18)" font-size="8.1" font-weight="400" text-anchor="end" fill="#111" stroke="#111" stroke-width="0.18">100</text>
<rect x="230.4" y="242.41" width="10.20" height="94.99" fill="#878787" stroke="#333" stroke-width="0.8"/>
<rect x="247.6" y="247.87" width="9.90" height="89.53" fill="#878787" stroke="#333" stroke-width="0.8"/>
<line x1="252.54999999999998" y1="246.98" x2="252.54999999999998" y2="247.87" stroke="#111" stroke-width="0.8"/>
<line x1="250.74999999999997" y1="246.98" x2="254.35" y2="246.98" stroke="#111" stroke-width="0.8"/>
<rect x="265.59999999999997" y="264.13" width="9.90" height="73.27" fill="#878787" stroke="#333" stroke-width="0.8"/>
<line x1="270.54999999999995" y1="263.33" x2="270.54999999999995" y2="264.13" stroke="#111" stroke-width="0.8"/>
<line x1="268.74999999999994" y1="263.33" x2="272.34999999999997" y2="263.33" stroke="#111" stroke-width="0.8"/>
<rect x="285.59999999999997" y="274.34" width="9.00" height="63.06" fill="#878787" stroke="#333" stroke-width="0.8"/>
<line x1="290.1" y1="273.35" x2="290.1" y2="274.34" stroke="#111" stroke-width="0.8"/>
<line x1="288.3" y1="273.35" x2="291.90000000000003" y2="273.35" stroke="#111" stroke-width="0.8"/>
<rect x="303.5" y="279.20" width="9.90" height="58.20" fill="#878787" stroke="#333" stroke-width="0.8"/>
<line x1="308.45000000000005" y1="276.22" x2="308.45000000000005" y2="279.20" stroke="#111" stroke-width="0.8"/>
<line x1="306.65000000000003" y1="276.22" x2="310.25000000000006" y2="276.22" stroke="#111" stroke-width="0.8"/>
<rect x="321.7" y="280.19" width="9.70" height="57.21" fill="#878787" stroke="#333" stroke-width="0.8"/>
<line x1="326.55" y1="278.60" x2="326.55" y2="280.19" stroke="#111" stroke-width="0.8"/>
<line x1="324.75" y1="278.60" x2="328.35" y2="278.60" stroke="#111" stroke-width="0.8"/>
<rect x="339.5" y="277.51" width="10.00" height="59.89" fill="#878787" stroke="#333" stroke-width="0.8"/>
<text transform="translate(236.1,350.6) scale(1,1.08)" font-size="8.9" font-weight="400" text-anchor="middle" fill="#111" stroke="#111" stroke-width="0.18">500</text>
<text transform="translate(253.15,350.6) scale(1,1.08)" font-size="8.9" font-weight="400" text-anchor="middle" fill="#111" stroke="#111" stroke-width="0.18">250</text>
<text transform="translate(271.15,350.6) scale(1,1.08)" font-size="8.9" font-weight="400" text-anchor="middle" fill="#111" stroke="#111" stroke-width="0.18">125</text>
<text transform="translate(290.7,350.6) scale(1,1.08)" font-size="8.9" font-weight="400" text-anchor="middle" fill="#111" stroke="#111" stroke-width="0.18">63</text>
<text transform="translate(308.65,350.6) scale(1,1.08)" font-size="8.9" font-weight="400" text-anchor="middle" fill="#111" stroke="#111" stroke-width="0.18">31</text>
<text transform="translate(326.45,350.6) scale(1,1.08)" font-size="8.9" font-weight="400" text-anchor="middle" fill="#111" stroke="#111" stroke-width="0.18">16</text>
<text transform="translate(345.9,350.6) scale(1,1.08)" font-size="8.9" font-weight="400" text-anchor="middle" fill="#111" stroke="#111" stroke-width="0.18">0</text>
<text transform="translate(292.0,365.9) scale(1,1.04)" font-size="8.55" font-weight="400" text-anchor="middle" fill="#111" stroke="#111" stroke-width="0.18">rILYd4 (nmol/L)</text>
<text x="0" y="0" font-size="8.6" font-weight="400" text-anchor="middle" fill="#111" stroke="#111" stroke-width="0.18" transform="translate(203.3,287.3) rotate(-90)">Cytolysis (%)</text>
<line x1="390.9" y1="233.1" x2="390.9" y2="336.8" stroke="#6a6a6a" stroke-width="1.8"/>
<line x1="390.0" y1="336.8" x2="506.1" y2="336.8" stroke="#6a6a6a" stroke-width="1.8"/>
<line x1="388.7" y1="336.80" x2="390.9" y2="336.80" stroke="#3a3a3a" stroke-width="0.9"/>
<text transform="translate(383.3,339.9) scale(1,1.12)" font-size="7.8" font-weight="400" text-anchor="end" fill="#111" stroke="#111" stroke-width="0.18">0</text>
<line x1="388.7" y1="319.52" x2="390.9" y2="319.52" stroke="#3a3a3a" stroke-width="0.9"/>
<text transform="translate(384.2,322.62) scale(1,1.12)" font-size="7.8" font-weight="400" text-anchor="end" fill="#111" stroke="#111" stroke-width="0.18">20</text>
<line x1="388.7" y1="302.23" x2="390.9" y2="302.23" stroke="#3a3a3a" stroke-width="0.9"/>
<text transform="translate(384.7,305.33) scale(1,1.12)" font-size="7.8" font-weight="400" text-anchor="end" fill="#111" stroke="#111" stroke-width="0.18">40</text>
<line x1="388.7" y1="284.95" x2="390.9" y2="284.95" stroke="#3a3a3a" stroke-width="0.9"/>
<text transform="translate(385.3,288.05) scale(1,1.12)" font-size="7.8" font-weight="400" text-anchor="end" fill="#111" stroke="#111" stroke-width="0.18">60</text>
<line x1="388.7" y1="267.67" x2="390.9" y2="267.67" stroke="#3a3a3a" stroke-width="0.9"/>
<text transform="translate(385.3,270.77) scale(1,1.12)" font-size="7.8" font-weight="400" text-anchor="end" fill="#111" stroke="#111" stroke-width="0.18">80</text>
<line x1="388.7" y1="250.38" x2="390.9" y2="250.38" stroke="#3a3a3a" stroke-width="0.9"/>
<text transform="translate(385.2,253.48) scale(1,1.12)" font-size="7.8" font-weight="400" text-anchor="end" fill="#111" stroke="#111" stroke-width="0.18">100</text>
<line x1="388.7" y1="233.10" x2="390.9" y2="233.10" stroke="#3a3a3a" stroke-width="0.9"/>
<text transform="translate(385.6,236.2) scale(1,1.12)" font-size="7.8" font-weight="400" text-anchor="end" fill="#111" stroke="#111" stroke-width="0.18">120</text>
<line x1="390.60" y1="336.8" x2="390.60" y2="339.2" stroke="#3a3a3a" stroke-width="0.9"/>
<line x1="402.15" y1="336.8" x2="402.15" y2="339.2" stroke="#3a3a3a" stroke-width="0.9"/>
<line x1="413.70" y1="336.8" x2="413.70" y2="339.2" stroke="#3a3a3a" stroke-width="0.9"/>
<line x1="425.25" y1="336.8" x2="425.25" y2="339.2" stroke="#3a3a3a" stroke-width="0.9"/>
<line x1="436.80" y1="336.8" x2="436.80" y2="339.2" stroke="#3a3a3a" stroke-width="0.9"/>
<line x1="448.35" y1="336.8" x2="448.35" y2="339.2" stroke="#3a3a3a" stroke-width="0.9"/>
<line x1="459.90" y1="336.8" x2="459.90" y2="339.2" stroke="#3a3a3a" stroke-width="0.9"/>
<line x1="471.45" y1="336.8" x2="471.45" y2="339.2" stroke="#3a3a3a" stroke-width="0.9"/>
<line x1="483.00" y1="336.8" x2="483.00" y2="339.2" stroke="#3a3a3a" stroke-width="0.9"/>
<line x1="494.55" y1="336.8" x2="494.55" y2="339.2" stroke="#3a3a3a" stroke-width="0.9"/>
<line x1="506.10" y1="336.8" x2="506.10" y2="339.2" stroke="#3a3a3a" stroke-width="0.9"/>
<text transform="translate(404.5,353.6) scale(1,1.12)" font-size="8.2" font-weight="400" text-anchor="middle" fill="#111" stroke="#111" stroke-width="0.18">0.2</text>
<text transform="translate(427.55,353.6) scale(1,1.12)" font-size="8.2" font-weight="400" text-anchor="middle" fill="#111" stroke="#111" stroke-width="0.18">0.8</text>
<text transform="translate(450.6,353.6) scale(1,1.12)" font-size="8.2" font-weight="400" text-anchor="middle" fill="#111" stroke="#111" stroke-width="0.18">3.2</text>
<text transform="translate(473.65000000000003,353.6) scale(1,1.12)" font-size="8.2" font-weight="400" text-anchor="middle" fill="#111" stroke="#111" stroke-width="0.18">12.8</text>
<text transform="translate(496.7,353.6) scale(1,1.12)" font-size="8.2" font-weight="400" text-anchor="middle" fill="#111" stroke="#111" stroke-width="0.18">51.2</text>
<text transform="translate(452.3,366.1) scale(1,1.05)" font-size="8.4" font-weight="400" text-anchor="middle" fill="#111" stroke="#111" stroke-width="0.18">Rituximab (µg/mL)</text>
<text x="0" y="0" font-size="8.2" font-weight="400" text-anchor="middle" fill="#111" stroke="#111" stroke-width="0.18" transform="translate(369.1,277.5) rotate(-90)">Cytolysis (%)</text>
<polyline points="402.20,246.49 425.25,250.38 448.30,251.25 471.35,251.68 494.40,250.82" fill="none" stroke="#aaa" stroke-width="0.9" stroke-dasharray="1,1"/>
<polyline points="402.20,249.26 425.25,248.65 448.30,248.14 471.35,248.14 494.40,247.62" fill="none" stroke="#555" stroke-width="0.9" stroke-dasharray="3,1.2,1,1.2"/>
<polyline points="402.20,248.31 425.25,248.31 448.30,248.40 471.35,248.05 494.40,247.01" fill="none" stroke="#222" stroke-width="1.0" />
<ellipse cx="402.20" cy="249.1" rx="1.55" ry="4.0" fill="#000"/>
<ellipse cx="425.25" cy="249.1" rx="1.55" ry="4.0" fill="#000"/>
<ellipse cx="448.30" cy="249.1" rx="1.55" ry="4.0" fill="#000"/>
<ellipse cx="471.35" cy="249.1" rx="1.55" ry="4.0" fill="#000"/>
<path d="M469.75,251 L472.95,251 L471.35,254.3 Z" fill="#000"/>
<ellipse cx="494.40" cy="249.1" rx="1.55" ry="4.0" fill="#000"/>
<polyline points="432.50,282.50 444.00,282.50" fill="none" stroke="#333" stroke-width="1.0" />
<rect x="436.7" y="280.0" width="3.0" height="5.0" fill="#000"/>
<text x="445.4" y="284.7" font-size="8.9" font-weight="400" text-anchor="start" fill="#111" stroke="#111" stroke-width="0.18" >OR</text>
<polyline points="432.50,295.50 435.70,295.50" fill="none" stroke="#333" stroke-width="1.0" />
<polyline points="441.00,295.50 444.00,295.50" fill="none" stroke="#333" stroke-width="1.0" />
<ellipse cx="438.3" cy="295.5" rx="1.55" ry="2.6" fill="#000"/>
<text x="445.4" y="298.40000000000003" font-size="8.9" font-weight="400" text-anchor="start" fill="#111" stroke="#111" stroke-width="0.18" >RR 51.2</text>
<polyline points="432.50,309.50 444.00,309.50" fill="none" stroke="#999" stroke-width="1.0" stroke-dasharray="1,1"/>
<path d="M438.4,306.9 L440.1,309.5 L438.4,312.1 L436.7,309.5 Z" fill="#000"/>
<text x="445.4" y="311.8" font-size="8.9" font-weight="400" text-anchor="start" fill="#111" stroke="#111" stroke-width="0.18" >CS</text>
<line x1="518.5" y1="1" x2="518.5" y2="382" stroke="#d4d4d4" stroke-width="1"/>
</svg></div></body></html>
